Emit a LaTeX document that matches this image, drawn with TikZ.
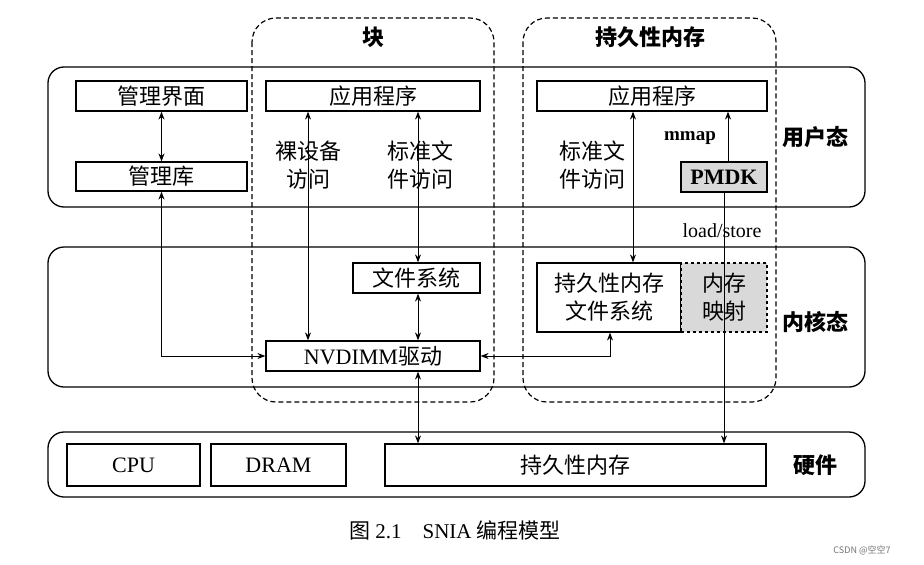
\documentclass[tikz,border=0pt]{standalone}
\usepackage{fontspec}
\setmainfont{Liberation Serif}
\newfontfamily\cjk{Noto Sans CJK SC}
\usetikzlibrary{arrows.meta}
\begin{document}
\begin{tikzpicture}[x=1pt,y=-1pt,
  lay/.style={draw,line width=1.3pt,rounded corners=16pt},
  dsh/.style={draw,dash pattern=on 5pt off 3pt,line width=1.2pt,rounded corners=24pt},
  bx/.style={draw,line width=1.2pt,inner sep=0pt,font=\fontsize{22}{25}\selectfont\cjk},
  txt/.style={font=\fontsize{22}{28}\selectfont\cjk,align=center,inner sep=0pt},
  bold/.style={font=\fontsize{22}{25}\selectfont\cjk\bfseries,inner sep=0pt},
  ar/.style={line width=1pt,{Stealth[length=8pt,width=6pt]}-{Stealth[length=8pt,width=6pt]}},
  ar1/.style={line width=1pt,-{Stealth[length=8pt,width=6pt]}}]
\useasboundingbox (0,0) rectangle (924,565);
\draw[lay] (48,67) rectangle (865,207);
\draw[lay] (48,247) rectangle (865,387);
\draw[lay] (48,432) rectangle (865,497);
\draw[dsh] (252,18) rectangle (494,402);
\draw[dsh] (523,18) rectangle (776,402);
\node[bold] (tb) at (373,37) {块};
\node[bold] (tp) at (650,37) {持久性内存};
\node[bold] (lu) at (815,137) {用户态};
\node[bold] (lk) at (815,322) {内核态};
\node[bold] (lh) at (815,465) {硬件};
\node[bx,minimum width=171pt,minimum height=30pt] (mui) at (161.5,96) {管理界面};
\node[bx,minimum width=171pt,minimum height=29pt] (mlib) at (161.5,176.5) {管理库};
\node[bx,minimum width=214pt,minimum height=30pt] (app1) at (373,96) {应用程序};
\node[bx,minimum width=230pt,minimum height=30pt] (app2) at (652,96) {应用程序};
\node[txt] (raw) at (308,165) {裸设备\\访问};
\node[txt] (sfa1) at (420,165) {标准文\\件访问};
\node[txt] (sfa2) at (592,165) {标准文\\件访问};
\node[font=\fontsize{19}{22}\selectfont\bfseries,inner sep=0pt] (mmap) at (690,138) {mmap};
\node[bx,fill=black!15,minimum width=86pt,minimum height=30pt,font=\fontsize{22}{25}\selectfont\bfseries] (pmdk) at (724,177) {PMDK};
\node[font=\fontsize{20}{22}\selectfont,inner sep=0pt] (ls) at (722,231) {load/store};
\node[bx,minimum width=127pt,minimum height=30pt] (fs) at (416.5,278) {文件系统};
\node[bx,minimum width=144pt,minimum height=69pt,align=center,font=\fontsize{22}{28}\selectfont\cjk] (pmfs) at (609,297.5) {持久性内存\\文件系统};
\node[bx,dashed,fill=black!15,minimum width=86pt,minimum height=69pt,align=center,font=\fontsize{22}{28}\selectfont\cjk] (mm) at (724,297.5) {内存\\映射};
\node[bx,minimum width=214pt,minimum height=30pt,font=\fontsize{22}{25}\selectfont] (nv) at (373,356) {NVDIMM{\cjk 驱动}};
\node[bx,minimum width=133pt,minimum height=42pt,font=\fontsize{22}{25}\selectfont] (cpu) at (133.5,465) {CPU};
\node[bx,minimum width=135pt,minimum height=42pt,font=\fontsize{22}{25}\selectfont] (dram) at (278.5,465) {DRAM};
\node[bx,minimum width=381pt,minimum height=42pt] (pm) at (575.5,465) {持久性内存};
\node[font=\fontsize{21}{24}\selectfont,inner sep=0pt] (cap) at (455,530) {{\cjk 图} 2.1\quad SNIA {\cjk 编程模型}};
\node[font=\fontsize{9}{10}\selectfont\cjk,text=black!55,inner sep=0pt] (wm) at (862,550) {CSDN @空空7};
\draw[ar] (mui.south) -- (mlib.north);
\draw[ar] (mlib.south) |- (nv.west);
\draw[ar] (app1.south -| 308,0) -- (nv.north -| 308,0);
\draw[ar] (app1.south -| 418,0) -- (fs.north -| 418,0);
\draw[ar] (fs.south -| 418,0) -- (nv.north -| 418,0);
\draw[ar] (nv.south -| 418,0) -- (pm.north -| 418,0);
\draw[ar] (app2.south -| 633,0) -- (pmfs.north -| 633,0);
\draw[ar] (nv.east) -| (pmfs.south -| 610,0);
\draw[ar1] (pmdk.north -| 728,0) -- (app2.south -| 728,0);
\draw[ar1] (pmdk.south) -- (pm.north -| pmdk.south);
\end{tikzpicture}
\end{document}
